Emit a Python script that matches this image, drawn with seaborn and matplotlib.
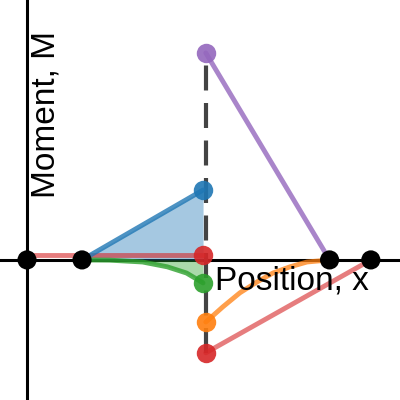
import numpy as np
import matplotlib
matplotlib.use("Agg")
import matplotlib.pyplot as plt
import seaborn as sns

# supports / key points on the beam
support_x = [0, 1, 5.5, 6.25]
cut_x = 3.25

# moment traces
red_top_x = [0, 3.2]
red_top_y = [0.2, 0.2]
blue_x = [1, 3.2]
blue_y = [0, 3.04]
green_x = [1, 1.5, 2.1, 2.55, 2.9, 3.2]
green_y = [0, -0.01, -0.09, -0.3, -0.57, -1.0]
purple_x = [3.25, 5.5]
purple_y = [9.0, 0]
orange_x = [3.25, 3.56, 3.87, 4.18, 4.47, 4.78, 5.09, 5.5]
orange_y = [-2.7, -2.04, -1.43, -0.96, -0.57, -0.3, -0.09, 0]
red_bot_x = [3.25, 6.25]
red_bot_y = [-4.04, 0]

sns.set_style("white")
plt.rcParams['font.family'] = ['Liberation Sans', 'DejaVu Sans']
pal = sns.color_palette("tab10")

fig = plt.figure(figsize=(4, 4), dpi=100)
ax = fig.add_axes([0, 0, 1, 1])

# dashed cut line
ax.plot([cut_x, cut_x], [red_bot_y[0], purple_y[0]], color="#444444", lw=3,
        dashes=(6, 3), zorder=2)

# fills
ax.fill_between(blue_x, blue_y, 0, color=pal[0], alpha=0.4, lw=0, zorder=1)
ax.fill_between(green_x, green_y, 0, color=pal[2], alpha=0.4, lw=0, zorder=1)

# (x, y, colour, line alpha, marker at end?)
series = [
    (red_top_x, red_top_y, pal[3], 0.6, True),
    (blue_x, blue_y, pal[0], 0.8, True),
    (green_x, green_y, pal[2], 0.8, True),
    (purple_x, purple_y, pal[4], 0.8, False),
    (orange_x, orange_y, pal[1], 0.75, False),
    (red_bot_x, red_bot_y, pal[3], 0.6, False),
]
for xs, ys, c, a, at_end in series:
    sns.lineplot(x=xs, y=ys, color=c, lw=3.5, alpha=a, ax=ax, zorder=3)
    i = -1 if at_end else 0
    ax.plot(xs[i], ys[i], 'o', color=c, ms=14, alpha=0.9, mec='none', zorder=5)

# supports
sns.scatterplot(x=support_x, y=[0] * len(support_x), color="black", s=190,
                edgecolor="none", ax=ax, zorder=6)

ax.set_xlim(-0.491, 6.78)
ax.set_ylim(-6.09, 11.3)
for s in ["top", "right"]:
    ax.spines[s].set_visible(False)
ax.spines["left"].set_position(("data", 0))
ax.spines["bottom"].set_position(("data", 0))
for s in ["left", "bottom"]:
    ax.spines[s].set_linewidth(2.2)
    ax.spines[s].set_color("black")
    ax.spines[s].set_zorder(0)
ax.set_xticks([])
ax.set_yticks([])

ax.text(3.42, -1.3, "Position, x", fontsize=24, color="black",
        ha="left", va="baseline")
ax.text(0.07, 2.7, "Moment, M", fontsize=24, color="black", rotation=90,
        ha="left", va="bottom")

fig.savefig("out.png", dpi=100)
